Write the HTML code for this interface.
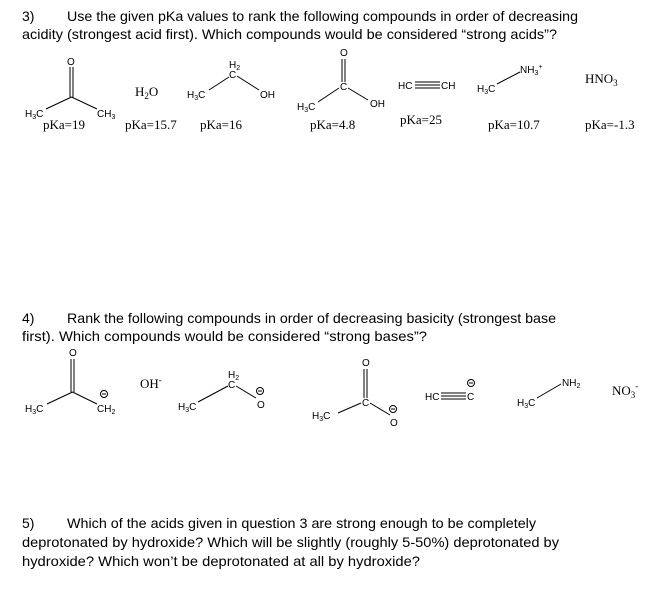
<!DOCTYPE html>
<html><head><meta charset="utf-8"><style>
html,body{margin:0;padding:0;background:#fff;}
svg{display:block;}
.h{font-family:"Liberation Sans",sans-serif;font-size:14px;fill:#000;}
.s{font-family:"Liberation Sans",sans-serif;font-size:10px;fill:#000;}
.sub{font-size:7px;}
.r{font-family:"Liberation Serif",serif;font-size:13px;fill:#000;}
line{stroke:#000;stroke-width:1;}
</style></head><body>
<svg width="667" height="613" xmlns="http://www.w3.org/2000/svg">
<!-- Section 3 -->
<text class="h" x="22" y="21">3)</text>
<text class="h" x="67" y="21" textLength="511" lengthAdjust="spacingAndGlyphs">Use the given pKa values to rank the following compounds in order of decreasing</text>
<text class="h" x="22" y="39" textLength="535" lengthAdjust="spacingAndGlyphs">acidity (strongest acid first).  Which compounds would be considered “strong acids”?</text>

<!-- acetone -->
<text class="s" x="67" y="65">O</text>
<line x1="70" y1="67" x2="70" y2="97"/><line x1="73" y1="67" x2="73" y2="97"/>
<line x1="71.5" y1="97" x2="46" y2="109"/><line x1="71.5" y1="97" x2="97" y2="109"/>
<text class="s" x="25" y="117">H<tspan class="sub" dy="2">3</tspan><tspan dy="-2">C</tspan></text>
<text class="s" x="97" y="117">CH<tspan class="sub" dy="2">3</tspan></text>
<text class="r" x="43" y="129">pKa=19</text>
<text class="r" x="135" y="96">H<tspan font-size="9" dy="3">2</tspan><tspan dy="-3">O</tspan></text>
<text class="r" x="125" y="129">pKa=15.7</text>
<!-- ethanol -->
<text class="s" x="187" y="98">H<tspan class="sub" dy="2">3</tspan><tspan dy="-2">C</tspan></text>
<text class="s" x="229" y="68">H<tspan class="sub" dy="2">2</tspan></text>
<text class="s" x="229" y="78">C</text>
<line x1="209" y1="90" x2="229" y2="77"/><line x1="237" y1="76" x2="259" y2="90"/>
<text class="s" x="260" y="98">OH</text>
<text class="r" x="200" y="129">pKa=16</text>
<!-- acetic acid -->
<text class="s" x="340" y="56">O</text>
<line x1="342" y1="59" x2="342" y2="82"/><line x1="345" y1="59" x2="345" y2="82"/>
<text class="s" x="340" y="90">C</text>
<line x1="318" y1="102" x2="339" y2="88"/><line x1="348" y1="88" x2="368" y2="100"/>
<text class="s" x="297" y="110">H<tspan class="sub" dy="2">3</tspan><tspan dy="-2">C</tspan></text>
<text class="s" x="370" y="107">OH</text>
<text class="r" x="310" y="129">pKa=4.8</text>
<!-- acetylene -->
<text class="s" x="398" y="89">HC</text>
<line x1="415" y1="82" x2="440" y2="82"/><line x1="415" y1="85" x2="440" y2="85"/><line x1="415" y1="88" x2="440" y2="88"/>
<text class="s" x="441" y="89">CH</text>
<text class="r" x="400" y="124">pKa=25</text>
<!-- methylammonium -->
<text class="s" x="477" y="92">H<tspan class="sub" dy="2">3</tspan><tspan dy="-2">C</tspan></text>
<line x1="497" y1="84" x2="520" y2="72"/>
<text class="s" x="520" y="73">NH<tspan class="sub" dy="2">3</tspan><tspan class="sub" dy="-6">+</tspan></text>
<text class="r" x="488" y="129">pKa=10.7</text>
<text class="r" x="585" y="83">HNO<tspan font-size="9" dy="3">3</tspan></text>
<text class="r" x="585" y="129">pKa=-1.3</text>

<!-- Section 4 -->
<text class="h" x="22" y="323">4)</text>
<text class="h" x="67" y="323" textLength="489" lengthAdjust="spacingAndGlyphs">Rank the following compounds in order of decreasing basicity (strongest base</text>
<text class="h" x="22" y="341" textLength="405" lengthAdjust="spacingAndGlyphs">first).  Which compounds would be considered “strong bases”?</text>

<!-- enolate -->
<text class="s" x="69" y="356">O</text>
<line x1="71" y1="359" x2="71" y2="392"/><line x1="74" y1="359" x2="74" y2="392"/>
<line x1="72.5" y1="392" x2="47" y2="404"/><line x1="72.5" y1="392" x2="97" y2="404"/>
<text class="s" x="25" y="412">H<tspan class="sub" dy="2">3</tspan><tspan dy="-2">C</tspan></text>
<text class="s" x="97" y="412">CH<tspan class="sub" dy="2">2</tspan></text>
<circle cx="104" cy="394" r="3.5" fill="none" stroke="#000"/><line x1="102" y1="394" x2="106" y2="394"/>
<text class="r" x="140" y="388">OH<tspan font-size="9" dy="-5">-</tspan></text>
<!-- ethoxide -->
<text class="s" x="178" y="410">H<tspan class="sub" dy="2">3</tspan><tspan dy="-2">C</tspan></text>
<text class="s" x="228" y="378">H<tspan class="sub" dy="2">2</tspan></text>
<text class="s" x="228" y="388">C</text>
<line x1="198" y1="402" x2="228" y2="386"/><line x1="236" y1="386" x2="256" y2="398"/>
<circle cx="260" cy="391" r="3.5" fill="none" stroke="#000"/><line x1="258" y1="391" x2="262" y2="391"/>
<text class="s" x="257" y="408">O</text>
<!-- acetate -->
<text class="s" x="362" y="366">O</text>
<line x1="364" y1="369" x2="364" y2="398"/><line x1="367" y1="369" x2="367" y2="398"/>
<text class="s" x="362" y="406">C</text>
<line x1="338" y1="413" x2="361" y2="403"/><line x1="370" y1="403" x2="390" y2="415"/>
<text class="s" x="312" y="419">H<tspan class="sub" dy="2">3</tspan><tspan dy="-2">C</tspan></text>
<circle cx="393" cy="409" r="3.5" fill="none" stroke="#000"/><line x1="391" y1="409" x2="395" y2="409"/>
<text class="s" x="390" y="426">O</text>
<!-- acetylide -->
<text class="s" x="425" y="400">HC</text>
<line x1="441" y1="393" x2="466" y2="393"/><line x1="441" y1="396" x2="466" y2="396"/><line x1="441" y1="399" x2="466" y2="399"/>
<text class="s" x="467" y="400">C</text>
<circle cx="471" cy="383" r="3.5" fill="none" stroke="#000"/><line x1="469" y1="383" x2="473" y2="383"/>
<!-- methylamine -->
<text class="s" x="517" y="406">H<tspan class="sub" dy="2">3</tspan><tspan dy="-2">C</tspan></text>
<line x1="537" y1="398" x2="561" y2="384"/>
<text class="s" x="562" y="386">NH<tspan class="sub" dy="2">2</tspan></text>
<text class="r" x="612" y="395">NO<tspan font-size="9" dy="3">3</tspan><tspan font-size="9" dy="-9">-</tspan></text>

<!-- Section 5 -->
<text class="h" x="22" y="528">5)</text>
<text class="h" x="67" y="528" textLength="469" lengthAdjust="spacingAndGlyphs">Which of the acids given in question 3 are strong enough to be completely</text>
<text class="h" x="22" y="547" textLength="537" lengthAdjust="spacingAndGlyphs">deprotonated by hydroxide?  Which will be slightly (roughly 5-50%) deprotonated by</text>
<text class="h" x="22" y="566" textLength="398" lengthAdjust="spacingAndGlyphs">hydroxide?  Which won’t be deprotonated at all by hydroxide?</text>
</svg>
</body></html>
